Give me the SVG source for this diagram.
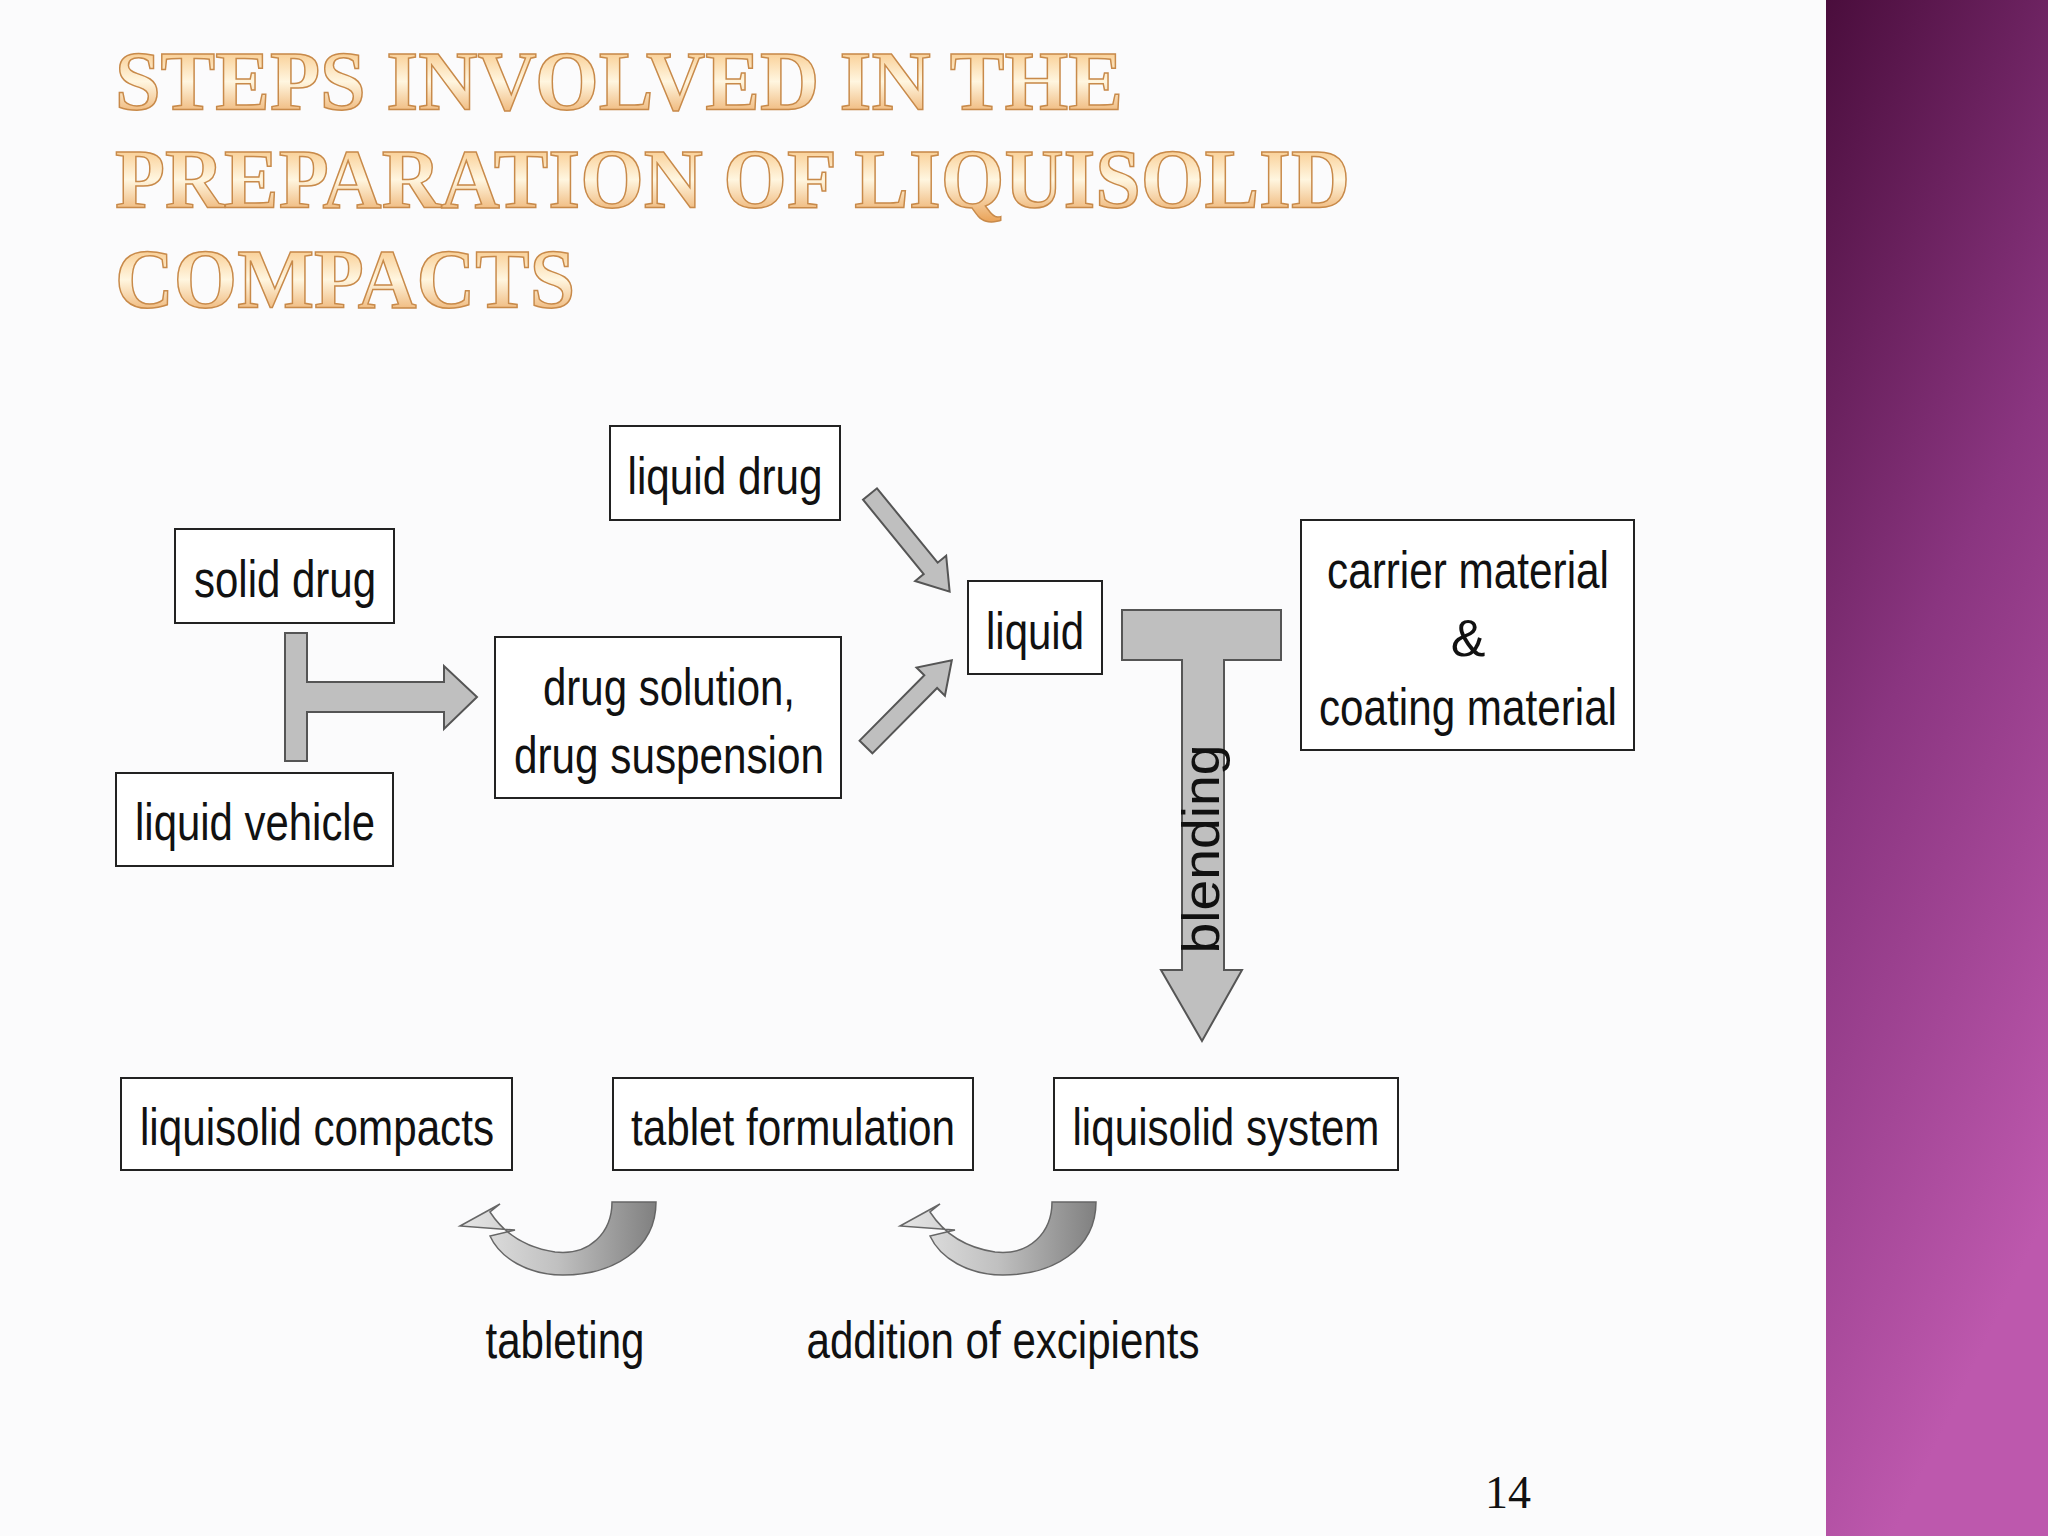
<svg xmlns="http://www.w3.org/2000/svg" width="2048" height="1536" viewBox="0 0 2048 1536">
<defs>
<linearGradient id="side" x1="0" y1="0" x2="0.3" y2="1"><stop offset="0" stop-color="#4a0d3c"/><stop offset="0.5" stop-color="#8a3580"/><stop offset="1" stop-color="#bd58ad"/></linearGradient>
<linearGradient id="ttl" x1="0" y1="0" x2="0" y2="1"><stop offset="0" stop-color="#f6b86a"/><stop offset="0.5" stop-color="#fff6e0"/><stop offset="1" stop-color="#e89a4a"/></linearGradient>
<linearGradient id="curv" x1="0" y1="0" x2="1" y2="0"><stop offset="0" stop-color="#e6e6e6"/><stop offset="0.5" stop-color="#c0c0c0"/><stop offset="1" stop-color="#808080"/></linearGradient>
<style>
.box{fill:#fff;stroke:#222;stroke-width:2}
.t{font-family:"Liberation Sans",Arial,sans-serif;font-size:52px;fill:#111;text-anchor:middle}
.ar{fill:#bfbfbf;stroke:#555;stroke-width:2}
.title{font-family:"Liberation Serif","Times New Roman",serif;font-weight:bold;font-size:84px;fill:url(#ttl);stroke:#c88a4a;stroke-width:1.5}
</style>
</defs>
<rect width="2048" height="1536" fill="#fbfbfc"/>
<rect x="1826" y="0" width="222" height="1536" fill="url(#side)"/>
<text class="title" x="115" y="110" textLength="1008" lengthAdjust="spacingAndGlyphs">STEPS INVOLVED IN THE</text>
<text class="title" x="115" y="208" textLength="1235" lengthAdjust="spacingAndGlyphs">PREPARATION OF LIQUISOLID</text>
<text class="title" x="115" y="308" textLength="460" lengthAdjust="spacingAndGlyphs">COMPACTS</text>

<g id="connectors">
<path class="ar" d="M285 633H307V682H444V666L477 697L444 729V712H307V761H285Z"/>
<g transform="translate(870 494) rotate(50.8)"><path class="ar" d="M0 -9H96V-20L126 0L96 20V9H0Z"/></g>
<g transform="translate(866 747) rotate(-45.3)"><path class="ar" d="M0 -9H92V-20L122 0L92 20V9H0Z"/></g>
<path class="ar" d="M1122 610H1281V660H1224V970H1242L1202 1041L1161 970H1182V660H1122Z"/>
<path fill="url(#curv)" stroke="#666" stroke-width="1.5" d="M656 1202C656 1250 612 1275 563 1275C528 1275 500 1258 490 1236L515 1230L460 1226L500 1204L490 1212C505 1235 528 1248 555 1252C590 1256 612 1232 612 1202Z"/>
<path fill="url(#curv)" stroke="#666" stroke-width="1.5" d="M1096 1202C1096 1250 1052 1275 1003 1275C968 1275 940 1258 930 1236L955 1230L900 1226L940 1204L930 1212C945 1235 968 1248 995 1252C1030 1256 1052 1232 1052 1202Z"/>
</g>

<g id="liquid-drug"><rect class="box" x="610" y="426" width="230" height="94"/><text class="t" x="725" y="494" textLength="195" lengthAdjust="spacingAndGlyphs">liquid drug</text></g>
<g id="solid-drug"><rect class="box" x="175" y="529" width="219" height="94"/><text class="t" x="285" y="597" textLength="182" lengthAdjust="spacingAndGlyphs">solid drug</text></g>
<g id="liquid-vehicle"><rect class="box" x="116" y="773" width="277" height="93"/><text class="t" x="255" y="840" textLength="240" lengthAdjust="spacingAndGlyphs">liquid vehicle</text></g>
<g id="drug-solution"><rect class="box" x="495" y="637" width="346" height="161"/><text class="t" x="669" y="705" textLength="252" lengthAdjust="spacingAndGlyphs">drug solution,</text><text class="t" x="669" y="773" textLength="310" lengthAdjust="spacingAndGlyphs">drug suspension</text></g>
<g id="liquid"><rect class="box" x="968" y="581" width="134" height="93"/><text class="t" x="1035" y="649" textLength="98" lengthAdjust="spacingAndGlyphs">liquid</text></g>
<g id="carrier"><rect class="box" x="1301" y="520" width="333" height="230"/><text class="t" x="1468" y="588" textLength="282" lengthAdjust="spacingAndGlyphs">carrier material</text><text class="t" x="1468" y="656">&amp;</text><text class="t" x="1468" y="725" textLength="298" lengthAdjust="spacingAndGlyphs">coating material</text></g>
<g id="liquisolid-compacts"><rect class="box" x="121" y="1078" width="391" height="92"/><text class="t" x="317" y="1145" textLength="354" lengthAdjust="spacingAndGlyphs">liquisolid compacts</text></g>
<g id="tablet-formulation"><rect class="box" x="613" y="1078" width="360" height="92"/><text class="t" x="793" y="1145" textLength="324" lengthAdjust="spacingAndGlyphs">tablet formulation</text></g>
<g id="liquisolid-system"><rect class="box" x="1054" y="1078" width="344" height="92"/><text class="t" x="1226" y="1145" textLength="307" lengthAdjust="spacingAndGlyphs">liquisolid system</text></g>

<text class="t" transform="translate(1219 849) rotate(-90)" textLength="209" lengthAdjust="spacingAndGlyphs">blending</text>
<text class="t" x="565" y="1358" textLength="159" lengthAdjust="spacingAndGlyphs">tableting</text>
<text class="t" x="1003" y="1358" textLength="393" lengthAdjust="spacingAndGlyphs">addition of excipients</text>
<text x="1508" y="1508" font-family="Liberation Serif,serif" font-size="46" text-anchor="middle" fill="#111">14</text>
</svg>
